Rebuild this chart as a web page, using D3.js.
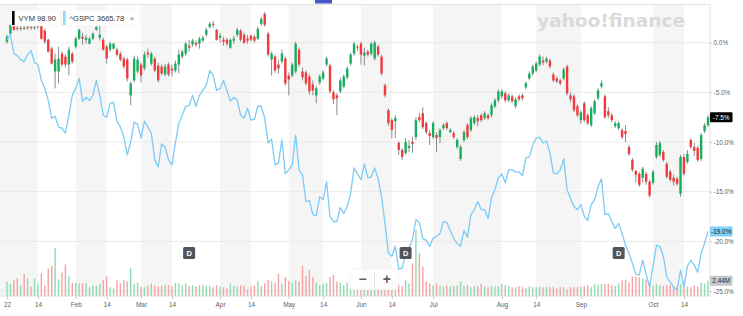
<!DOCTYPE html>
<html>
<head>
<meta charset="utf-8">
<script src="https://cdn.jsdelivr.net/npm/d3@7"></script>
<style>
  body { margin: 0; background: #fff; }
  svg { display: block; font-family: "Liberation Sans", Arial, sans-serif; }
</style>
</head>
<body>
<script>
// VYM のローソク足 [始値, 高値, 安値, 終値] (基準日からの変化率 %)
const vymOHLC = [
  [0.1,0.8,-0.1,0.6],[0.9,1.9,0.8,1.8],[1.9,2.0,1.2,1.3],[1.5,1.8,1.2,1.4],[1.4,1.7,1.2,1.5],
  [1.5,1.8,1.3,1.4],[1.5,1.8,1.3,1.6],[1.6,1.9,1.3,1.5],[1.5,1.8,1.3,1.6],[1.6,1.9,1.4,1.7],
  [1.8,1.9,0.3,0.4],[1.2,1.4,-0.1,0.1],[0.3,0.4,-1.0,-0.9],[-0.6,-0.4,-2.2,-2.1],[-2.9,-1.1,-4.6,-1.7],
  [-2.9,-0.4,-4.1,-1.6],[-1.1,-0.9,-2.4,-2.2],[-1.4,-1.2,-2.5,-2.2],[-2.2,-0.4,-3.3,-0.7],[-1.1,-0.9,-2.1,-1.9],
  [-0.4,0.6,-0.6,0.4],[0.4,1.4,0.3,1.3],[0.6,1.0,-0.2,0.4],[0.3,0.8,-0.1,0.5],[-0.1,0.6,-0.2,0.4],
  [0.4,1.1,0.3,0.9],[1.3,1.8,1.2,1.6],[0.5,1.8,0.2,0.8],[0.3,0.5,-0.8,-0.7],[-0.4,-0.2,-2.1,-1.6],
  [-0.7,0.1,-0.9,-0.1],[-0.6,0.0,-0.7,-0.1],[-0.7,-0.5,-1.4,-1.2],[-1.1,-0.9,-1.9,-1.7],[-1.6,-1.4,-2.6,-2.4],
  [-1.7,-1.5,-3.9,-3.6],[-5.3,-3.9,-6.3,-4.1],[-3.8,-1.3,-4.0,-1.6],[-2.9,-1.4,-3.1,-1.7],[-2.2,-2.0,-4.0,-3.3],
  [-2.6,-0.9,-2.8,-1.2],[-1.0,-0.6,-1.5,-1.2],[-2.1,-0.9,-2.3,-1.1],[-1.6,-1.4,-3.0,-2.8],[-2.3,-2.0,-4.0,-3.8],
  [-2.4,-2.2,-3.3,-3.1],[-3.2,-2.1,-3.4,-2.4],[-2.2,-2.0,-3.4,-3.2],[-2.6,-2.2,-3.4,-2.8],[-2.8,-1.8,-3.0,-2.1],
  [-2.2,-0.7,-3.1,-1.2],[-1.4,-0.7,-1.6,-0.9],[-1.1,0.1,-1.3,-0.1],[-0.3,0.3,-0.9,-0.5],[-0.2,0.4,-0.4,0.2],
  [0.0,0.2,-0.4,-0.2],[-0.1,0.6,-0.6,0.4],[0.2,0.7,0.1,0.5],[0.8,1.5,0.6,1.3],[1.6,2.1,1.4,1.9],
  [1.9,2.2,1.5,1.8],[1.3,1.4,0.2,0.3],[0.5,1.0,0.0,0.7],[0.3,0.6,-0.3,0.1],[0.3,0.5,-0.3,-0.1],
  [-0.5,0.4,-0.6,0.3],[0.2,0.7,-0.1,0.4],[0.8,1.5,0.6,1.3],[1.2,1.4,0.1,0.3],[0.8,1.0,-0.1,0.0],
  [0.4,0.8,-0.1,0.2],[0.7,0.8,0.1,0.3],[0.6,0.8,0.0,0.2],[0.4,1.6,0.3,1.4],[1.9,2.6,1.7,2.4],
  [2.9,3.1,1.6,1.8],[0.9,1.1,-1.4,-1.2],[-1.7,-0.9,-3.3,-1.1],[-1.4,-1.2,-3.0,-2.8],[-2.2,-1.7,-3.1,-2.6],
  [-1.9,-0.7,-2.1,-1.1],[-1.6,-1.4,-4.3,-4.1],[-3.3,-3.0,-5.3,-3.7],[-3.3,-2.0,-3.5,-2.2],[-2.9,0.1,-3.1,-0.1],
  [-0.7,-0.5,-2.4,-2.2],[-2.9,-2.5,-3.8,-3.5],[-3.0,-2.8,-4.3,-4.1],[-3.4,-3.2,-5.2,-4.9],[-4.2,-3.8,-5.3,-4.8],
  [-5.3,-4.4,-6.1,-4.6],[-4.0,-3.2,-4.2,-3.4],[-3.6,-2.8,-3.8,-3.0],[-2.2,-1.4,-2.4,-1.6],[-2.3,-2.1,-5.1,-4.9],
  [-5.0,-4.8,-6.2,-5.7],[-5.3,-5.1,-7.3,-5.6],[-4.9,-3.5,-5.1,-3.8],[-4.4,-3.2,-4.6,-3.4],[-3.5,-2.4,-3.7,-2.6],
  [-2.1,-1.0,-2.3,-1.2],[-1.1,0.1,-1.3,-0.1],[-0.4,-0.2,-0.8,-0.5],[-0.1,0.1,-2.2,-1.2],[-1.3,-0.5,-2.3,-1.0],
  [-0.9,-0.7,-1.4,-1.2],[-1.1,0.1,-1.3,-0.1],[-1.6,0.2,-1.8,0.0],[-0.4,-0.2,-1.4,-1.2],[-1.4,-1.2,-3.3,-3.1],
  [-4.3,-4.1,-5.5,-5.3],[-6.8,-6.6,-8.4,-8.1],[-7.8,-7.6,-9.6,-8.8],[-7.9,-7.3,-9.6,-7.6],[-10.1,-9.9,-11.3,-10.8],
  [-10.8,-10.6,-11.8,-11.5],[-11.1,-9.6,-11.3,-10.0],[-10.6,-9.8,-11.0,-10.4],[-10.0,-9.5,-11.1,-10.2],[-9.5,-7.5,-9.8,-7.8],
  [-7.5,-7.1,-8.0,-7.8],[-7.1,-6.5,-8.7,-8.5],[-8.1,-7.9,-9.2,-9.0],[-9.1,-8.8,-10.3,-9.4],[-9.5,-7.9,-9.7,-8.1],
  [-9.3,-9.0,-11.0,-9.6],[-9.5,-8.6,-10.1,-8.8],[-8.6,-8.1,-8.8,-8.3],[-8.1,-7.9,-8.8,-8.6],[-9.0,-8.6,-9.1,-8.8],
  [-9.1,-8.9,-9.7,-9.5],[-10.5,-9.6,-10.7,-9.8],[-11.7,-10.3,-11.9,-10.5],[-9.8,-8.8,-10.0,-9.0],[-8.3,-8.1,-9.7,-9.5],
  [-8.8,-7.4,-9.0,-7.6],[-8.1,-7.3,-8.3,-7.5],[-7.6,-7.3,-8.4,-7.9],[-7.3,-7.1,-8.0,-7.8],[-7.6,-6.9,-7.8,-7.1],
  [-7.3,-7.1,-7.8,-7.6],[-7.3,-6.1,-7.5,-6.3],[-6.4,-5.6,-6.6,-5.8],[-5.8,-4.7,-6.0,-4.9],[-5.4,-4.7,-5.6,-4.9],
  [-5.1,-4.9,-6.0,-5.8],[-5.8,-5.1,-6.0,-5.3],[-5.4,-5.2,-6.1,-5.9],[-6.4,-5.5,-6.6,-5.7],[-5.4,-5.2,-5.9,-5.7],
  [-5.3,-5.1,-5.8,-5.6],[-4.5,-3.9,-4.7,-4.1],[-3.6,-2.9,-3.8,-3.1],[-3.1,-2.2,-3.3,-2.4],[-2.8,-1.9,-3.0,-2.1],
  [-2.2,-1.2,-2.4,-1.4],[-1.8,-1.4,-2.3,-2.0],[-1.9,-1.4,-2.1,-1.6],[-1.8,-1.6,-2.6,-2.4],[-3.2,-3.0,-4.0,-3.8],
  [-3.6,-3.4,-4.1,-3.9],[-3.8,-3.6,-4.3,-4.1],[-3.6,-2.5,-3.8,-2.7],[-2.4,-2.2,-5.3,-5.1],[-5.3,-5.0,-6.0,-5.7],
  [-5.4,-5.2,-7.0,-6.8],[-6.4,-6.2,-7.5,-7.3],[-7.8,-6.8,-8.2,-7.0],[-6.1,-5.9,-8.0,-7.8],[-7.3,-7.1,-8.3,-8.1],
  [-8.3,-6.4,-8.5,-6.6],[-7.1,-5.7,-7.3,-5.9],[-5.6,-4.6,-5.8,-4.8],[-4.4,-3.8,-4.6,-4.1],[-5.4,-5.2,-7.7,-7.5],
  [-6.9,-6.5,-7.6,-7.3],[-7.3,-7.1,-8.0,-7.8],[-8.4,-7.9,-8.6,-8.1],[-8.6,-7.9,-8.8,-8.1],[-8.8,-8.6,-9.7,-9.5],
  [-8.9,-8.3,-10.0,-9.2],[-10.5,-10.3,-11.4,-11.2],[-11.8,-11.6,-13.0,-12.8],[-12.9,-12.8,-14.1,-13.3],[-13.2,-13.0,-14.5,-14.3],
  [-13.6,-12.5,-14.1,-12.7],[-13.2,-13.0,-14.3,-14.0],[-14.0,-13.8,-15.6,-15.4],[-14.1,-12.8,-14.3,-13.0],[-11.5,-10.0,-11.7,-10.3],
  [-11.3,-9.9,-11.5,-10.1],[-11.0,-10.8,-12.0,-11.8],[-12.2,-12.0,-13.7,-13.5],[-13.0,-12.8,-14.0,-13.8],[-13.6,-13.3,-14.4,-14.0],
  [-13.7,-13.5,-14.4,-14.2],[-15.2,-11.3,-15.5,-11.5],[-11.5,-11.2,-13.4,-13.2],[-12.0,-10.8,-12.2,-11.2],[-9.8,-9.6,-10.7,-10.5],
  [-10.5,-10.1,-11.4,-10.9],[-10.6,-10.4,-12.0,-11.8],[-11.7,-9.1,-11.9,-9.3],[-8.9,-8.1,-9.1,-8.3],[-8.3,-7.3,-8.5,-7.5]
];

// ^GSPC の変化率 (%)
const gspcPct = [
  0.3,0.8,-1.1,-1.3,-1.7,-1.9,-1.2,-0.8,-2.0,-2.2,-3.8,-4.6,-5.8,-7.6,-7.4,-8.5,-8.6,-9.1,-7.3,-5.3,
  -4.6,-3.6,-5.9,-5.5,-5.8,-5.3,-3.8,-5.3,-7.3,-7.5,-6.1,-6.0,-7.9,-8.5,-9.5,-11.3,-10.0,-8.0,-8.2,-9.6,
  -7.9,-8.5,-9.1,-11.8,-12.5,-10.2,-10.5,-11.8,-12.3,-10.1,-8.1,-7.3,-6.4,-6.3,-5.3,-6.4,-5.3,-4.8,-4.3,-2.8,
  -3.3,-4.8,-4.6,-3.8,-4.8,-5.9,-5.5,-5.8,-7.3,-7.6,-6.6,-7.8,-7.7,-6.4,-6.4,-7.6,-10.1,-9.7,-12.3,-12.1,
  -9.8,-13.2,-12.8,-12.3,-9.3,-12.8,-13.3,-16.0,-15.9,-17.3,-17.4,-15.5,-15.8,-14.0,-17.5,-18.0,-18.0,-16.6,-17.2,-16.5,
  -15.2,-12.6,-13.2,-13.8,-12.2,-13.6,-13.5,-12.6,-13.7,-15.5,-18.2,-21.2,-21.5,-20.5,-22.8,-22.7,-21.2,-20.7,-19.8,-17.8,
  -18.1,-19.7,-19.9,-20.5,-19.7,-19.5,-19.2,-18.0,-18.1,-18.9,-19.7,-20.2,-20.5,-18.9,-19.6,-17.3,-16.8,-16.0,-16.8,-16.8,
  -17.7,-15.6,-14.8,-13.6,-13.2,-14.1,-12.8,-12.8,-13.0,-13.0,-13.4,-11.6,-11.5,-10.3,-9.6,-9.5,-10.1,-9.9,-11.1,-13.1,
  -13.2,-12.8,-11.7,-14.8,-15.7,-16.5,-16.8,-16.3,-17.5,-17.9,-16.3,-15.8,-14.5,-13.7,-17.3,-17.2,-18.0,-18.7,-18.2,-19.2,
  -20.4,-21.2,-22.2,-23.3,-23.4,-21.9,-23.3,-24.6,-22.5,-20.4,-20.5,-21.5,-23.6,-24.1,-24.6,-24.9,-22.9,-24.6,-22.5,-21.9,
  -22.4,-23.1,-21.2,-20.2,-19.0
];

// VYM の出来高 (百万株)
const vymVolume = [
  2.3,1.9,2.5,2.8,1.7,3.5,2.8,1.5,2.8,2.0,3.6,1.7,4.4,4.8,7.6,2.6,3.7,5.0,3.2,2.1,
  2.1,2.0,2.0,2.1,1.4,1.7,1.6,1.9,2.6,3.1,1.4,1.2,2.5,2.0,2.5,2.3,4.4,1.9,2.1,1.4,
  1.4,1.6,2.0,1.7,1.5,1.6,1.7,1.7,1.6,2.1,2.0,1.7,2.0,1.6,1.7,1.5,1.7,1.7,1.6,1.6,
  1.4,1.7,1.5,1.4,1.2,2.0,1.6,1.5,1.7,1.6,1.1,1.5,1.6,2.4,1.6,2.0,2.6,2.3,2.1,3.5,
  2.0,3.0,2.4,2.1,2.5,2.3,4.8,3.2,4.2,3.0,2.1,1.7,1.9,2.1,3.0,3.3,2.3,2.1,1.7,2.1,
  1.7,1.7,1.5,1.4,1.5,1.4,1.4,1.5,1.6,1.7,2.2,2.4,2.6,2.3,1.8,1.6,2.5,2.0,5.2,10.5,
  6.8,4.7,2.3,2.0,1.7,2.0,1.6,1.5,1.7,1.5,1.6,1.7,2.3,1.6,1.7,1.4,1.6,1.6,1.9,1.5,
  1.4,1.6,1.5,1.5,1.9,1.7,1.6,1.4,1.4,1.6,1.4,1.2,1.5,1.4,1.4,1.5,1.4,1.5,1.4,1.4,
  1.2,1.4,1.4,1.1,1.4,1.4,1.4,1.5,1.6,1.7,1.4,1.9,1.7,1.9,1.9,1.9,1.7,1.6,2.0,2.5,
  2.6,2.1,3.1,3.1,3.0,2.8,2.6,2.1,1.7,1.9,1.7,1.6,1.7,1.7,1.6,1.5,1.9,1.4,1.5,1.4,
  1.7,1.5,2.1,2.0,2.44
];

// 横軸の目盛り (取引日の番号とラベル)
const tickIndex = [0, 9, 20, 29, 39, 48, 62, 71, 82, 92, 103, 112, 124, 144, 154, 167, 188, 197];
const tickLabel = ["22", "14", "Feb", "14", "Mar", "14", "Apr", "14", "May", "14", "Jun", "14", "Jul", "Aug", "14", "Sep", "Oct", "14"];
// 縦軸の目盛り (%)
const pctTicks = [0, -5, -10, -15, -20, -25];
// 配当マーカー (取引日の番号)
const dividendIndex = [53, 116, 178];
// 凡例
const legendNames = ["VYM", "^GSPC"];
const legendValues = ["98.90", "3665.78"];

const width = 743;
const height = 316;
const plotRight = 710;
const plotTop = 4.5;
const volBase = 296;

const svg = d3.select("body").append("svg")
    .attr("width", width)
    .attr("height", height);

// スケール
const xScale = d3.scaleLinear().domain([0, vymOHLC.length - 1]).range([7, 708]);
const yScale = d3.scaleLinear().domain([-25, 0]).range([291, 42.7]);
const vScale = d3.scaleLinear().domain([0, 10]).range([volBase, volBase - 63]);

// 背景の縞 (目盛りと目盛りの間を交互に塗る)
const bandEdges = [0, ...tickIndex.slice(1).map(xScale), plotRight];
svg.append("g").selectAll("rect")
    .data(d3.pairs(bandEdges))
    .enter().append("rect")
    .attr("x", d => d[0])
    .attr("y", plotTop)
    .attr("width", d => d[1] - d[0])
    .attr("height", volBase - plotTop)
    .attr("fill", (d, i) => i % 2 === 0 ? "#f5f5f5" : "#ffffff");

// グリッド線
svg.append("g").selectAll("line")
    .data(pctTicks)
    .enter().append("line")
    .attr("x1", 0).attr("x2", plotRight)
    .attr("y1", d => yScale(d)).attr("y2", d => yScale(d))
    .attr("stroke", "#e9e9e9")
    .attr("stroke-width", 1);

// 枠線
svg.append("line").attr("x1", 0).attr("x2", plotRight).attr("y1", plotTop).attr("y2", plotTop)
    .attr("stroke", "#e2e2e2");
svg.append("line").attr("x1", plotRight).attr("x2", plotRight).attr("y1", plotTop).attr("y2", volBase)
    .attr("stroke", "#e2e2e2");

// 出来高
svg.append("g").selectAll("rect")
    .data(vymVolume)
    .enter().append("rect")
    .attr("x", (d, i) => xScale(i) - 0.7)
    .attr("y", d => vScale(d))
    .attr("width", 1.4)
    .attr("height", d => volBase - vScale(d))
    .attr("fill", (d, i) => vymOHLC[i][3] >= vymOHLC[i][0] ? "#8fdab0" : "#f6a2a2");

// ローソク足
const candle = svg.append("g").selectAll("g")
    .data(vymOHLC)
    .enter().append("g");

candle.append("line")
    .attr("x1", (d, i) => xScale(i)).attr("x2", (d, i) => xScale(i))
    .attr("y1", d => yScale(d[1])).attr("y2", d => yScale(d[2]))
    .attr("stroke", "#6f6f6f")
    .attr("stroke-width", 0.8);

candle.append("rect")
    .attr("x", (d, i) => xScale(i) - 1.2)
    .attr("y", d => yScale(Math.max(d[0], d[3])))
    .attr("width", 2.4)
    .attr("height", d => Math.max(0.8, Math.abs(yScale(d[0]) - yScale(d[3]))))
    .attr("fill", d => d[3] >= d[0] ? "#17ad5e" : "#f23a3c");

// ^GSPC の折れ線
const line = d3.line()
    .x((d, i) => xScale(i))
    .y(d => yScale(d));

svg.append("path")
    .datum(gspcPct)
    .attr("d", line)
    .attr("fill", "none")
    .attr("stroke", "#7ccbf7")
    .attr("stroke-width", 1.3)
    .attr("stroke-linejoin", "round");

// 配当マーカー
const divMark = svg.append("g").selectAll("g")
    .data(dividendIndex)
    .enter().append("g")
    .attr("transform", d => `translate(${xScale(d)}, 253)`);
divMark.append("rect")
    .attr("x", -6).attr("y", -6).attr("width", 12).attr("height", 12).attr("rx", 1.5)
    .attr("fill", "#4f565d");
divMark.append("text")
    .attr("text-anchor", "middle").attr("y", 2.6)
    .attr("font-size", 7.5).attr("font-weight", "bold").attr("fill", "#fff")
    .text("D");

// 縦軸 (右)
const yAxis = d3.axisRight(yScale)
    .tickValues(pctTicks)
    .tickSize(2)
    .tickPadding(1.5)
    .tickFormat(d => d.toFixed(1) + "%");
svg.append("g")
    .attr("class", "yAxis")
    .attr("transform", `translate(${plotRight}, 0)`)
    .call(yAxis)
    .call(g => g.select(".domain").remove())
    .call(g => g.selectAll("line").attr("stroke", "#c9c9c9"))
    .call(g => g.selectAll("text").attr("font-size", 6.4).attr("fill", "#5b636a")
        .attr("font-family", "Liberation Sans, Arial, sans-serif"));

// 横軸
const xAxis = d3.axisBottom(xScale)
    .tickValues(tickIndex)
    .tickSize(3)
    .tickPadding(3)
    .tickFormat((d, i) => tickLabel[i]);
svg.append("g")
    .attr("class", "xAxis")
    .attr("transform", `translate(0, ${volBase})`)
    .call(xAxis)
    .call(g => g.select(".domain").remove())
    .call(g => g.selectAll("line").attr("stroke", "#c9c9c9"))
    .call(g => g.selectAll("text").attr("font-size", 6.4).attr("fill", "#5b636a")
        .attr("font-family", "Liberation Sans, Arial, sans-serif"));
svg.append("line").attr("x1", 0).attr("x2", plotRight).attr("y1", volBase).attr("y2", volBase)
    .attr("stroke", "#dcdcdc");

// 右端の現在値ラベル
const lastIdx = vymOHLC.length - 1;
const valueTags = [
    {y: yScale(vymOHLC[lastIdx][3]), text: vymOHLC[lastIdx][3].toFixed(1) + "%", fill: "#000", color: "#fff"},
    {y: yScale(gspcPct[lastIdx]), text: gspcPct[lastIdx].toFixed(1) + "%", fill: "#7fd0fb", color: "#1a1a1a"},
    {y: vScale(vymVolume[lastIdx]), text: vymVolume[lastIdx].toFixed(2) + "M", fill: "#c5c8cc", color: "#2a2a2a"}
];
const tag = svg.append("g").selectAll("g")
    .data(valueTags)
    .enter().append("g")
    .attr("transform", d => `translate(${plotRight}, ${d.y})`);
tag.append("rect")
    .attr("x", 0).attr("y", -5).attr("width", 22.5).attr("height", 10).attr("rx", 1)
    .attr("fill", d => d.fill);
tag.append("text")
    .attr("x", 11.2).attr("y", 2.3).attr("text-anchor", "middle")
    .attr("font-size", 6.4).attr("fill", d => d.color)
    .text(d => d.text);

// ウォーターマーク
svg.append("text")
    .attr("x", 537).attr("y", 26.5)
    .attr("font-family", "DejaVu Sans, sans-serif")
    .attr("font-size", 18).attr("font-weight", "bold")
    .attr("textLength", 148).attr("lengthAdjust", "spacingAndGlyphs")
    .attr("fill", "#dadada")
    .text("yahoo!finance");

// 上部のスクロールバー
svg.append("rect").attr("x", 315).attr("y", 0).attr("width", 17).attr("height", 3.5)
    .attr("fill", "#4b57c8");

// 凡例
const legendX = [10.5, 61.5];
const legendW = [50, 78];
const legendColor = ["#000000", "#8ed6fb"];
const legend = svg.append("g").selectAll("g")
    .data(legendNames)
    .enter().append("g")
    .attr("transform", (d, i) => `translate(${legendX[i]}, 10)`);
legend.append("rect")
    .attr("width", (d, i) => legendW[i]).attr("height", 16).attr("rx", 1.5)
    .attr("fill", "#fff").attr("fill-opacity", 0.95)
    .attr("stroke", "#eeeeee").attr("stroke-width", 0.6);
legend.append("rect")
    .attr("x", 1.5).attr("y", 1).attr("width", 2.6).attr("height", 14)
    .attr("fill", (d, i) => legendColor[i]);
legend.append("text")
    .attr("x", 8).attr("y", 11)
    .attr("font-size", 7.6).attr("fill", "#333")
    .text((d, i) => `${d} ${legendValues[i]}`);
svg.append("text")
    .attr("x", 129.5).attr("y", 21)
    .attr("font-size", 8).attr("fill", "#777")
    .text("×");

// ズームボタン
const zoomBox = svg.append("g").attr("transform", "translate(350, 269)");
zoomBox.append("rect")
    .attr("width", 48).attr("height", 21).attr("rx", 2)
    .attr("fill", "#fff").attr("fill-opacity", 0.9)
    .attr("stroke", "#ececec").attr("stroke-width", 0.6);
zoomBox.append("line").attr("x1", 24.5).attr("x2", 24.5).attr("y1", 3).attr("y2", 18)
    .attr("stroke", "#e2e2e2");
zoomBox.append("text").attr("x", 12.5).attr("y", 14.5).attr("text-anchor", "middle")
    .attr("font-size", 14).attr("font-weight", "bold").attr("fill", "#5a5f64").text("−");
zoomBox.append("text").attr("x", 36.8).attr("y", 14.8).attr("text-anchor", "middle")
    .attr("font-size", 14).attr("font-weight", "bold").attr("fill", "#5a5f64").text("+");
</script>
</body>
</html>
